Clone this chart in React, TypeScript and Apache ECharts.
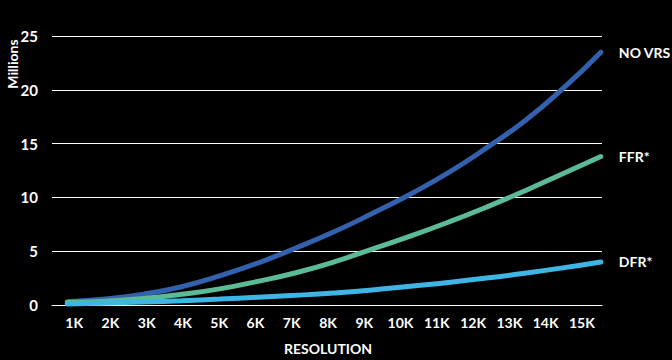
import React, { useEffect, useRef } from "react";
import * as echarts from "echarts";

const categories = ["1K", "2K", "3K", "4K", "5K", "6K", "7K", "8K", "9K", "10K", "11K", "12K", "13K", "14K", "15K"];
const resolutionK = [1, 2, 3, 4, 5, 6, 7, 8, 9, 10, 11, 12, 13, 14, 15];
const noVrs = [0.3, 0.55, 1.0, 1.7, 2.7, 3.9, 5.3, 6.8, 8.5, 10.3, 12.3, 14.6, 17.1, 20.1, 23.5];
const ffr = [0.25, 0.35, 0.6, 1.0, 1.5, 2.2, 3.0, 4.0, 5.2, 6.4, 7.7, 9.1, 10.6, 12.2, 13.8];
const dfr = [0.1, 0.18, 0.28, 0.4, 0.55, 0.72, 0.9, 1.12, 1.4, 1.75, 2.1, 2.5, 2.95, 3.45, 4.0];
const yTicks = [0, 5, 10, 15, 20, 25];

const FONT = "Lato";

export default function App() {
  const ref = useRef<HTMLDivElement>(null);
  useEffect(() => {
    document.body.style.margin = "0";
    document.body.style.background = "#000";
    const chart = echarts.init(ref.current!, null, { renderer: "svg" });
    const mk = (name: string, vals: number[], color: string) => ({
      type: "line",
      name,
      xAxisIndex: 0,
      yAxisIndex: 0,
      data: resolutionK.map((k, i) => [k, vals[i]]),
      smooth: true,
      symbol: "none",
      lineStyle: { color, width: 5, cap: "round" },
      endLabel: {
        show: true,
        formatter: name,
        color: "#fff",
        fontFamily: FONT,
        fontWeight: "bold",
        fontSize: 14,
        distance: 18,
      },
    });
    chart.setOption({
      animation: false,
      backgroundColor: "#000",
      grid: [
        { left: 52, right: 70, top: 36, bottom: 55 },
        { left: 56, right: 72, top: 36, bottom: 55 },
      ],
      xAxis: [
        {
          type: "value",
          gridIndex: 0,
          min: 0.6,
          max: 15.03,
          axisLine: { show: true, lineStyle: { color: "#fff", width: 1 } },
          axisTick: { show: false },
          axisLabel: { show: false },
          splitLine: { show: false },
        },
        {
          type: "category",
          gridIndex: 1,
          data: categories,
          boundaryGap: true,
          axisLine: { show: false },
          axisTick: { show: false },
          axisLabel: {
            color: "#fff",
            fontFamily: FONT,
            fontWeight: "bold",
            fontSize: 14,
            margin: 10,
          },
          name: "RESOLUTION",
          nameLocation: "middle",
          nameGap: 36,
          nameTextStyle: { color: "#fff", fontFamily: FONT, fontWeight: "bold", fontSize: 14 },
        },
      ],
      yAxis: [
        {
          type: "value",
          gridIndex: 0,
          min: yTicks[0],
          max: yTicks[yTicks.length - 1],
          interval: 5,
          axisLine: { show: false },
          axisTick: { show: false },
          axisLabel: {
            color: "#fff",
            fontFamily: FONT,
            fontWeight: "bold",
            fontSize: 15,
            margin: 14,
          },
          splitLine: { show: true, lineStyle: { color: "#fff", width: 1.2 } },
        },
        { type: "value", gridIndex: 1, show: false, min: 0, max: 25 },
      ],
      graphic: [
        {
          type: "text",
          x: 12,
          y: 64,
          rotation: Math.PI / 2,
          style: {
            text: "Millions",
            fill: "#fff",
            font: `bold 14px ${FONT}`,
            align: "center",
            verticalAlign: "middle",
          },
        },
      ],
      series: [
        mk("NO VRS", noVrs, "#3361ad"),
        mk("FFR*", ffr, "#5bbb96"),
        mk("DFR*", dfr, "#3db6e6"),
      ],
    });
    return () => chart.dispose();
  }, []);
  return (
    <div
      ref={ref}
      style={{ position: "fixed", left: 0, top: 0, width: 672, height: 360, background: "#000" }}
    />
  );
}
